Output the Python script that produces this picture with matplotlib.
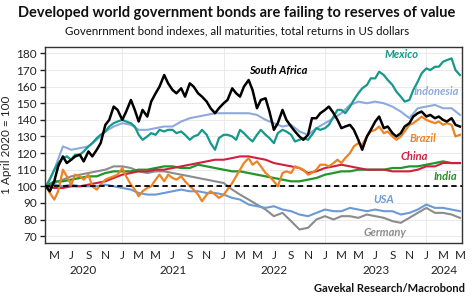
import pandas as pd
import matplotlib
matplotlib.use('Agg')
import matplotlib.pyplot as plt
import matplotlib.dates as mdates
import matplotlib.transforms as mtransforms

plt.rcParams['font.family'] = ['Lato', 'DejaVu Sans']

# dates: half-monthly for the volatile series, monthly for the smoother ones
half_months = pd.date_range('2020-04-01', '2024-05-01', freq='SMS')
months = pd.date_range('2020-04-01', '2024-05-01', freq='MS')

south_africa = [
    100, 97, 103, 112, 118, 114, 116, 118, 119, 115,
    121, 118, 122, 126, 137, 140, 148, 146, 140, 145,
    152, 146, 139, 146, 142, 151, 156, 160, 167, 162,
    158, 156, 159, 154, 162, 160, 156, 154, 151, 147,
    144, 147, 150, 152, 159, 156, 154, 160, 164, 158,
    147, 152, 153, 145, 134, 138, 146, 140, 136, 133,
    130, 128, 131, 141, 141, 144, 146, 148, 144, 140,
    135, 136, 137, 134, 128, 122, 130, 134, 139, 142,
    135, 136, 132, 130, 132, 136, 138, 142, 144, 145,
    142, 143, 141, 142, 140, 139, 141, 137, 136]

mexico = [
    100, 104, 110, 114, 117, 118, 116, 119, 119, 121,
    124, 126, 129, 131, 133, 136, 138, 139, 140, 139,
    138, 136, 131, 128, 130, 132, 131, 134, 133, 134,
    134, 132, 133, 131, 128, 130, 131, 134, 131, 126,
    122, 129, 131, 131, 130, 128, 134, 132, 129, 127,
    131, 134, 131, 129, 126, 132, 134, 133, 131, 127,
    128, 129, 128, 131, 135, 134, 135, 137, 142, 146,
    146, 144, 148, 152, 156, 159, 161, 165, 165, 169,
    167, 164, 161, 157, 154, 151, 152, 158, 163, 168,
    171, 170, 172, 172, 175, 176, 177, 170, 167]

brazil = [
    100, 96, 92, 97, 110, 106, 101, 107, 106, 104,
    107, 100, 98, 101, 104, 105, 106, 107, 111, 106,
    101, 98, 94, 97, 99, 100, 104, 107, 103, 107,
    105, 104, 106, 103, 100, 98, 95, 91, 95, 97,
    95, 93, 95, 98, 102, 106, 110, 114, 117, 113,
    115, 112, 108, 106, 103, 100, 108, 109, 108, 112,
    111, 110, 107, 108, 110, 113, 113, 112, 114, 116,
    114, 117, 120, 124, 126, 125, 130, 133, 134, 136,
    132, 133, 130, 128, 130, 133, 137, 138, 140, 142,
    140, 139, 138, 139, 137, 138, 137, 130, 131]

indonesia = [
    100, 110, 124, 122, 123, 124, 128, 133, 136, 138,
    137, 134, 134, 135, 136, 136, 139, 141, 142, 143,
    144, 144, 144, 144, 144, 143, 140, 138, 136, 137,
    133, 131, 135, 138, 141, 144, 149, 151, 150, 151,
    150, 148, 145, 141, 147, 148, 149, 147, 147, 143]

china = [
    100, 99, 99, 100, 100, 101, 102, 103, 105, 107,
    108, 109, 109, 110, 110, 111, 112, 113, 114, 115,
    116, 116, 117, 118, 118, 117, 116, 114, 113, 112,
    111, 108, 109, 111, 112, 113, 112, 111, 110, 110,
    110, 109, 109, 109, 110, 112, 112, 114, 114, 114]

india = [
    100, 103, 103, 104, 105, 106, 106, 108, 109, 109,
    109, 110, 110, 111, 112, 112, 111, 111, 113, 112,
    111, 110, 109, 109, 108, 107, 106, 105, 104, 103,
    103, 104, 105, 107, 108, 109, 109, 110, 110, 110,
    110, 111, 111, 112, 112, 113, 114, 115, 114, 114]

usa = [
    100, 101, 100, 101, 100, 100, 100, 101, 100, 99,
    98, 96, 95, 95, 96, 97, 98, 97, 97, 96,
    96, 95, 93, 92, 89, 88, 87, 88, 86, 85,
    83, 82, 84, 86, 85, 85, 87, 86, 85, 86,
    85, 85, 83, 84, 86, 89, 87, 87, 86, 85]

germany = [
    100, 102, 104, 106, 107, 108, 109, 110, 112, 112,
    111, 109, 108, 109, 109, 108, 107, 106, 105, 104,
    103, 102, 98, 95, 92, 89, 86, 82, 84, 79,
    74, 75, 80, 82, 80, 82, 82, 81, 83, 82,
    81, 79, 78, 81, 84, 87, 84, 84, 83, 81]

assert len(south_africa) == len(mexico) == len(brazil) == len(half_months)
assert len(indonesia) == len(china) == len(india) == len(usa) == len(germany) == len(months)

fig = plt.figure(figsize=(4.74, 3.05), dpi=100)
ax = fig.add_axes([0.094, 0.203, 0.881, 0.643])

ax.plot(months, germany, color='#8c8c8c', lw=1.5)
ax.plot(months, usa, color='#6b9ad6', lw=1.5)
ax.plot(months, india, color='#22962a', lw=1.6)
ax.plot(months, china, color='#d0203f', lw=1.5)
ax.plot(months, indonesia, color='#8eaadc', lw=1.5)
ax.plot(half_months, mexico, color='#16998a', lw=1.6)
ax.plot(half_months, brazil, color='#ee8322', lw=1.6)
ax.plot(half_months, south_africa, color='black', lw=1.8)
ax.axhline(100, color='black', lw=1.3, ls=(0, (3, 2)), zorder=5)

# series labels
lab = dict(fontsize=8, fontweight='bold', fontstyle='italic', ha='center', va='center')
ax.text(pd.Timestamp('2022-07-15'), 169.5, 'South Africa', color='black', **lab)
ax.text(pd.Timestamp('2023-10-05'), 179.3, 'Mexico', color='#16998a', **lab)
ax.text(pd.Timestamp('2024-02-05'), 157, 'Indonesia', color='#8eaadc', **lab)
ax.text(pd.Timestamp('2023-12-20'), 128.5, 'Brazil', color='#ee8322', **lab)
ax.text(pd.Timestamp('2023-11-18'), 118, 'China', color='#d0203f', **lab)
ax.text(pd.Timestamp('2024-03-10'), 106, 'India', color='#22962a', **lab)
ax.text(pd.Timestamp('2023-08-01'), 92, 'USA', color='#6b9ad6', **lab)
ax.text(pd.Timestamp('2023-08-05'), 72, 'Germany', color='#8c8c8c', **lab)

x0, x1 = pd.Timestamp('2020-03-27'), pd.Timestamp('2024-05-09')
ax.set_xlim(x0, x1)
ax.set_ylim(65.8, 183.9)
ax.set_yticks(range(70, 181, 10))
ax.tick_params(axis='y', labelsize=8.5, length=3.5, width=1, colors='#222222', pad=2)

ax.xaxis.set_major_locator(mdates.MonthLocator(bymonth=(1, 3, 5, 7, 9, 11)))
ax.xaxis.set_major_formatter(plt.FuncFormatter(lambda v, p: mdates.num2date(v).strftime('%b')[0]))
ax.tick_params(axis='x', labelsize=8.5, length=0, pad=5, colors='#222222')

ax.grid(False)
for y in range(70, 181, 10):
    ax.axhline(y, color='#e6e6e6', lw=0.6, zorder=0)
for yr in range(2021, 2025):
    ax.axvline(pd.Timestamp(f'{yr}-01-01'), color='#e6e6e6', lw=0.6, zorder=0)

# year labels centred under visible part of each year
trans = mtransforms.blended_transform_factory(ax.transData, ax.transAxes)
for yr in range(2020, 2025):
    a = max(pd.Timestamp(f'{yr}-01-01'), x0)
    b = min(pd.Timestamp(f'{yr + 1}-01-01'), x1)
    ax.text(a + (b - a) / 2, -0.138, str(yr), transform=trans, ha='center', va='center',
            fontsize=8.5, color='#222222')

for s in ax.spines.values():
    s.set_color('#333333')
    s.set_linewidth(1)

ax.set_ylabel('1 April 2020 = 100', fontsize=8.5, color='#222222', labelpad=3)

fig.text(0.5, 1 - 13 / 305, 'Developed world government bonds are failing to reserves of value',
         ha='center', va='center', fontsize=10.5, fontweight='bold', color='#111111')
fig.text(0.5, 1 - 31 / 305, 'Govenrnment bond indexes, all maturities, total returns in US dollars',
         ha='center', va='center', fontsize=8.3, color='#111111')
fig.text(465 / 474, 1 - 288 / 305, 'Gavekal Research/Macrobond', ha='right', va='center',
         fontsize=8, fontweight='bold', color='#111111')

fig.savefig('out.png', dpi=100)
